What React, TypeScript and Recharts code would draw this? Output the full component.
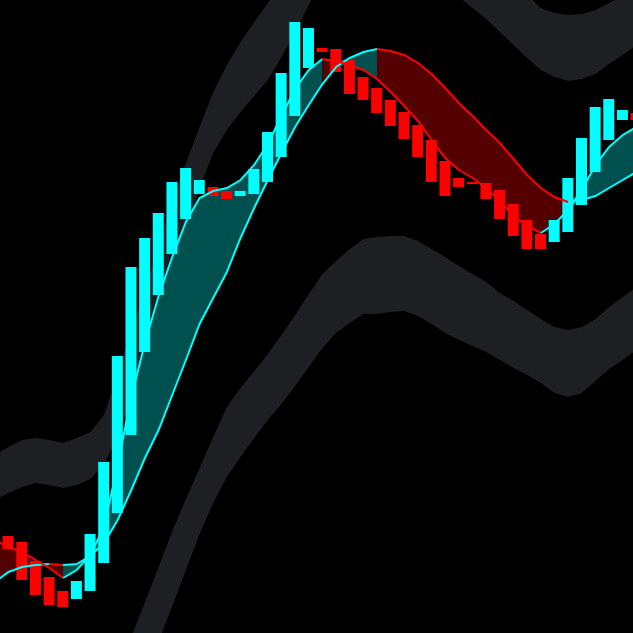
import React from 'react';
import {
  Area,
  Bar,
  Cell,
  ComposedChart,
  Line,
  XAxis,
  YAxis,
} from 'recharts';

// bar index -1 is only there so the bands and averages reach the left edge
const barIndex = Array.from({ length: 48 }, (_, k) => k - 1);

const opens = [
  null, 97, 91, 72, 56, 42, 34, 42, 70, 120, 198, 281, 338, 379, 414, 439, 446,
  442, 437, 439, 451, 476, 517, 565, 585, 584, 573, 556, 545, 533, 521, 508, 493,
  472, 455, 451, 450, 443, 429, 413, 399, 391, 401, 428, 461, 493, 513, 520,
];
const closes = [
  null, 84, 53, 38, 28, 26, 52, 99, 171, 277, 366, 395, 420, 451, 465, 453, 437,
  434, 442, 464, 501, 560, 611, 605, 581, 561, 539, 533, 520, 507, 494, 476, 451,
  437, 446, 449, 434, 414, 397, 384, 384, 413, 455, 495, 526, 534, 523, 513,
];

// fast / slow moving averages
const fastMa = [
  93, 86, 81, 73, 65, 55, 63, 78, 106, 168, 236, 290, 337, 376, 411, 435, 442,
  445, 453, 468, 489, 517, 544, 563, 574, 572, 568, 563, 554, 541, 527, 512, 493,
  475, 463, 455, 445, 432, 417, 407, 400, 409, 423, 443, 468, 486, 498, 506,
];
const slowMa = [
  51, 61, 66, 68, 69, 68, 69, 77, 90, 113, 143, 175, 203, 238, 273, 309, 335,
  361, 395, 425, 453, 480, 506, 528, 549, 566, 575, 581, 584, 582, 578, 570, 559,
  545, 530, 517, 503, 490, 474, 458, 445, 436, 431, 433, 437, 445, 453, 461,
];

// upper envelope (outer / inner edge)
const upperOuter = [
  178, 186, 193, 195, 193, 190, 195, 201, 218, 258, 303, 343, 388, 433, 470, 506,
  541, 568, 591, 611, 630, 648, 668, 688, 708, 723, 733, 743, 748, 751, 748, 743,
  733, 723, 708, 693, 678, 658, 648, 638, 625, 620, 618, 619, 623, 630, 638, 645,
];
const upperInner = [
  133, 140, 146, 150, 148, 145, 148, 154, 168, 198, 233, 271, 311, 353, 398, 445,
  480, 503, 521, 537, 553, 576, 601, 628, 653, 671, 683, 691, 695, 695, 691, 681,
  668, 651, 636, 625, 614, 601, 588, 575, 563, 556, 552, 554, 559, 569, 578, 588,
];

// lower envelope (inner / outer edge)
const lowerInner = [
  -217, -207, -197, -182, -167, -152, -132, -112, -77, -42, -4, 31, 66, 102, 134,
  165, 196, 226, 245, 262, 279, 298, 318, 339, 359, 372, 384, 394, 396, 397, 397,
  392, 384, 376, 367, 359, 351, 340, 332, 323, 314, 306, 303, 306, 314, 326, 336,
  346,
];
const lowerOuter = [
  -367, -347, -327, -307, -292, -257, -222, -187, -152, -117, -80, -45, -9, 27, 63,
  99, 130, 156, 176, 195, 213, 229, 247, 266, 285, 300, 310, 319, 319, 321, 322,
  317, 309, 300, 293, 287, 281, 273, 265, 258, 250, 240, 236, 240, 252, 264, 273,
  283,
];

const UP = '#00ffff';
const DOWN = '#ff0000';
const UP_FILL = '#005050';
const DOWN_FILL = '#550000';
const BAND = '#1e1f23';

const lineColor = (vals: number[], k: number) =>
  vals[k + 1] >= vals[k] ? UP : DOWN;

// split a set of segments into runs of the same colour
function toRuns(colorOf: (k: number) => string) {
  const runs: { color: string; from: number; to: number }[] = [];
  for (let k = 0; k < barIndex.length - 1; k++) {
    const c = colorOf(k);
    const last = runs[runs.length - 1];
    if (last && last.color === c) last.to = k + 1;
    else runs.push({ color: c, from: k, to: k + 1 });
  }
  return runs;
}

const fastRuns = toRuns((k) => lineColor(fastMa, k));
const slowRuns = toRuns((k) => lineColor(slowMa, k));
const fillRuns = toRuns((k) => {
  const fastUpper = fastMa[k] + fastMa[k + 1] > slowMa[k] + slowMa[k + 1];
  const c = fastUpper ? lineColor(fastMa, k) : lineColor(slowMa, k);
  return c === UP ? UP_FILL : DOWN_FILL;
});

const data = barIndex.map((x, k) => {
  const row: Record<string, any> = {
    x,
    upperBand: [upperInner[k], upperOuter[k]],
    lowerBand: [lowerOuter[k], lowerInner[k]],
    body:
      opens[k] == null
        ? null
        : [Math.min(opens[k]!, closes[k]!), Math.max(opens[k]!, closes[k]!)],
  };
  fastRuns.forEach((r, i) => {
    row[`fast${i}`] = k >= r.from && k <= r.to ? fastMa[k] : null;
  });
  slowRuns.forEach((r, i) => {
    row[`slow${i}`] = k >= r.from && k <= r.to ? slowMa[k] : null;
  });
  fillRuns.forEach((r, i) => {
    row[`fill${i}`] =
      k >= r.from && k <= r.to
        ? [Math.min(fastMa[k], slowMa[k]), Math.max(fastMa[k], slowMa[k])]
        : null;
  });
  return row;
});

export default function App() {
  return (
    <div
      style={{
        position: 'absolute',
        top: 0,
        left: 0,
        width: 633,
        height: 633,
        background: '#000',
        overflow: 'hidden',
      }}
    >
      <ComposedChart
        width={633}
        height={633}
        data={data}
        margin={{ top: 0, right: 0, bottom: 0, left: 0 }}
      >
        <XAxis
          dataKey="x"
          type="number"
          domain={[-0.62, 45.75]}
          allowDataOverflow
          hide
        />
        <YAxis type="number" domain={[0, 633]} allowDataOverflow hide />
        <Area
          dataKey="upperBand"
          stroke="none"
          fill={BAND}
          fillOpacity={1}
          isAnimationActive={false}
        />
        <Area
          dataKey="lowerBand"
          stroke="none"
          fill={BAND}
          fillOpacity={1}
          isAnimationActive={false}
        />
        {fillRuns.map((r, i) => (
          <Area
            key={`fill${i}`}
            dataKey={`fill${i}`}
            stroke="none"
            fill={r.color}
            fillOpacity={1}
            connectNulls={false}
            isAnimationActive={false}
          />
        ))}
        {slowRuns.map((r, i) => (
          <Line
            key={`slow${i}`}
            dataKey={`slow${i}`}
            stroke={r.color}
            strokeWidth={2}
            dot={false}
            connectNulls={false}
            isAnimationActive={false}
          />
        ))}
        {fastRuns.map((r, i) => (
          <Line
            key={`fast${i}`}
            dataKey={`fast${i}`}
            stroke={r.color}
            strokeWidth={2}
            dot={false}
            connectNulls={false}
            isAnimationActive={false}
          />
        ))}
        <Bar dataKey="body" barSize={11} isAnimationActive={false}>
          {data.map((d, k) => (
            <Cell
              key={k}
              fill={(closes[k] ?? 0) >= (opens[k] ?? 0) ? UP : DOWN}
            />
          ))}
        </Bar>
      </ComposedChart>
    </div>
  );
}
